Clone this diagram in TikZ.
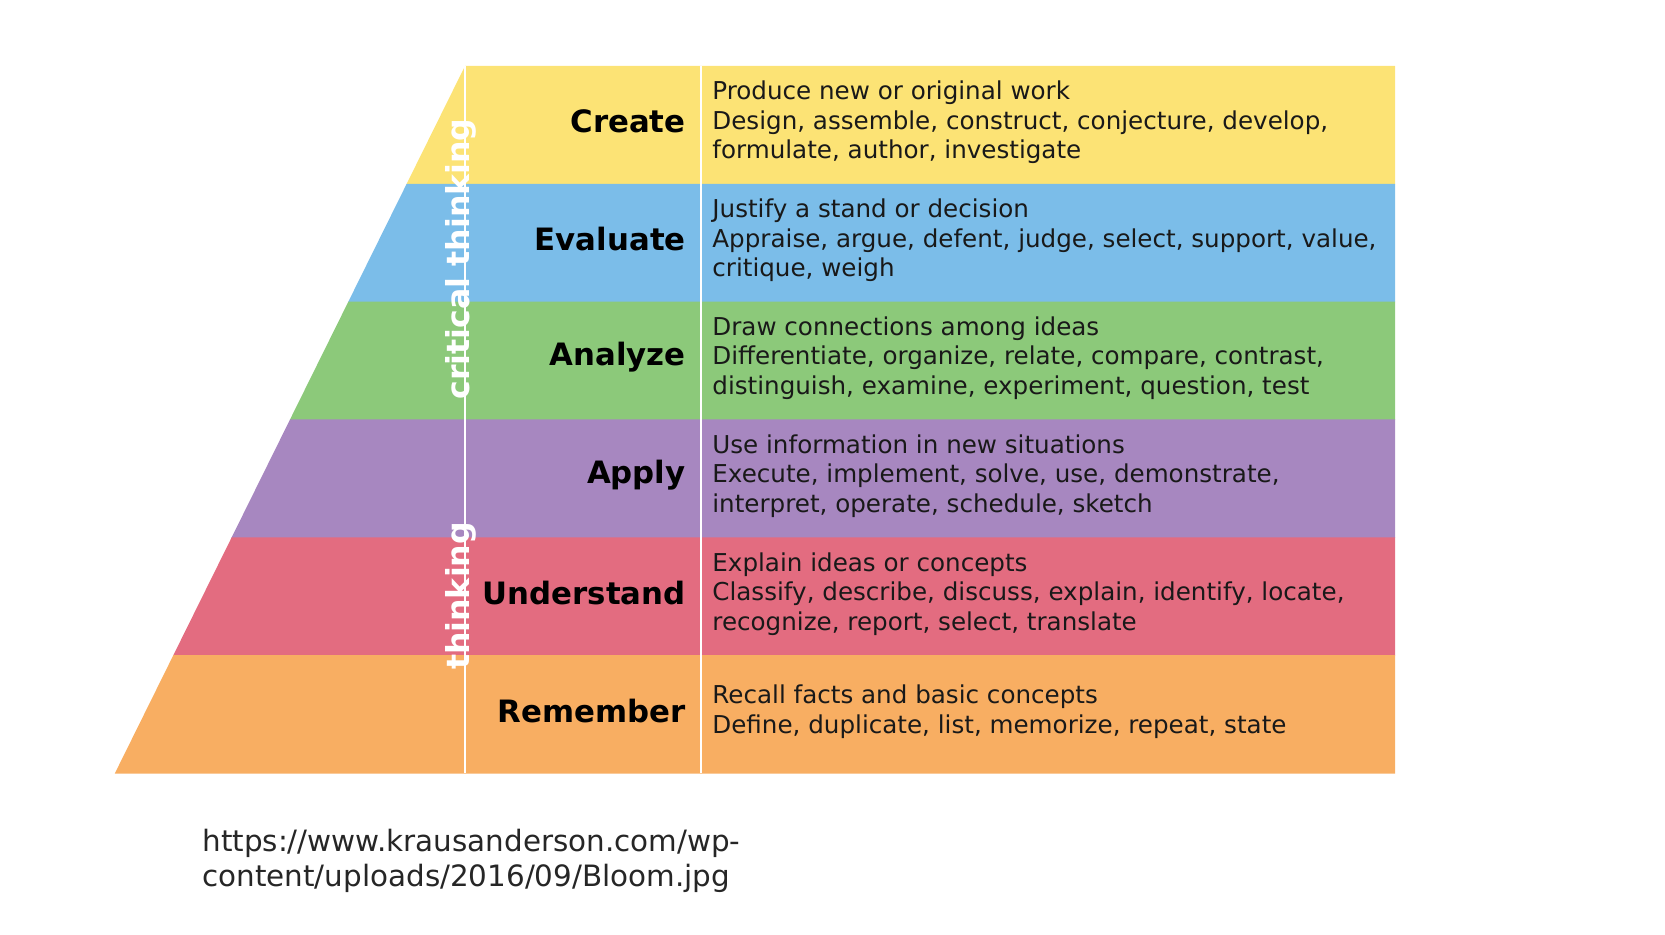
\documentclass[tikz,border=0pt]{standalone}
\usepackage{fontspec}
\setmainfont{DejaVu Sans}
\usepackage{tikz}

\definecolor{createcol}{HTML}{FCE375}
\definecolor{evalcol}{HTML}{7BBDE9}
\definecolor{analyzecol}{HTML}{8CC97A}
\definecolor{applycol}{HTML}{A787C0}
\definecolor{undercol}{HTML}{E36C80}
\definecolor{remcol}{HTML}{F8AE62}

\tikzset{
  level/.style={anchor=east, inner sep=0pt, font=\fontsize{15.4}{18}\selectfont\bfseries},
  verbs/.style={anchor=west, inner sep=0pt, align=left, text=black!90,
    font=\fontsize{12.3}{14.85}\selectfont},
  sidenote/.style={rotate=90, anchor=base, inner sep=0pt, text=white,
    font=\fontsize{15.8}{18}\selectfont\bfseries},
  source/.style={anchor=north west, inner sep=0pt, align=left, text=black!85,
    font=\fontsize{14.7}{17.6}\selectfont}
}

\begin{document}
\begin{tikzpicture}[x=0.5pt,y=-0.5pt]
    \useasboundingbox (0,0) rectangle (1665,935);

    % Draw bands
    \foreach \i/\col in {0/createcol,1/evalcol,2/analyzecol,3/applycol,4/undercol,5/remcol} {
      \pgfmathsetmacro\yt{66+\i*117.833}
      \pgfmathsetmacro\yb{\yt+118.4}
      \pgfmathsetmacro\xt{465-(\yt-66)*0.495}
      \pgfmathsetmacro\xb{465-(\yb-66)*0.495}
      \fill[\col] (\xt,\yt) -- (1395,\yt) -- (1395,\yb) -- (\xb,\yb) -- cycle;
    }

    % Draw dividers
    \draw[white,line width=0.7pt] (465,66) -- (465,773);
    \draw[white,line width=0.7pt] (701,66) -- (701,773);

    % Level names
    \node[level] (create) at (686,121.5) {Create};
    \node[level] (evaluate) at (686,239.3) {Evaluate};
    \node[level] (analyze) at (686,357.2) {Analyze};
    \node[level] (apply) at (686,475) {Apply};
    \node[level] (understand) at (686,593) {Understand};
    \node[level] (remember) at (686,711) {Remember};

    % Verbs
    \node[verbs] (create-verbs) at (712,122.5)
      {Produce new or original work\\Design, assemble, construct, conjecture, develop,\\formulate, author, investigate};
    \node[verbs] (evaluate-verbs) at (712,240.3)
      {Justify a stand or decision\\Appraise, argue, defent, judge, select, support, value,\\critique, weigh};
    \node[verbs] (analyze-verbs) at (712,358.2)
      {Draw connections among ideas\\Differentiate, organize, relate, compare, contrast,\\distinguish, examine, experiment, question, test};
    \node[verbs] (apply-verbs) at (712,476)
      {Use information in new situations\\Execute, implement, solve, use, demonstrate,\\interpret, operate, schedule, sketch};
    \node[verbs] (understand-verbs) at (712,594)
      {Explain ideas or concepts\\Classify, describe, discuss, explain, identify, locate,\\recognize, report, select, translate};
    \node[verbs] (remember-verbs) at (712,712)
      {Recall facts and basic concepts\\Define, duplicate, list, memorize, repeat, state};

    % Side notes
    \node[sidenote] (critical) at (469,259) {critical thinking};
    \node[sidenote] (thinking) at (469,596) {thinking};

    % Source
    \node[source] (src) at (202,829)
      {https://www.krausanderson.com/wp-\\content/uploads/2016/09/Bloom.jpg};
\end{tikzpicture}
\end{document}
